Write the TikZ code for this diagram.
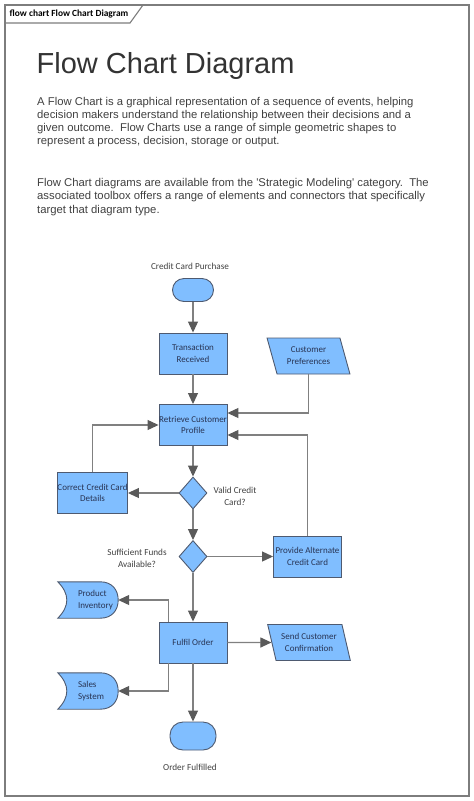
\documentclass[tikz,border=0pt]{standalone}
\usepackage{fontspec}
\setmainfont{Liberation Sans}
\newfontfamily\nodefont{Carlito}
\usetikzlibrary{arrows.meta,shapes.geometric,calc}
\pgfdeclarelayer{background}
\pgfsetlayers{background,main}
\definecolor{shapefill}{RGB}{128,190,255}
\definecolor{shapeline}{RGB}{78,90,112}
\definecolor{conncol}{RGB}{128,128,128}
\definecolor{tipcol}{RGB}{90,90,90}
\definecolor{nodetext}{RGB}{40,52,84}
\definecolor{labeltext}{RGB}{64,64,64}
\definecolor{framecol}{RGB}{125,125,125}
\definecolor{titlecol}{RGB}{51,51,51}
\definecolor{paracol}{RGB}{64,64,64}
\newcommand\storageshape[1]{%
  \begin{pgfonlayer}{background}
  \path[shapebase] ([xshift=-20pt]#1.north west) -- ([xshift=-18pt]#1.north east)
    .. controls ([xshift=-6pt]#1.north east) and ([yshift=10pt]#1.east) .. (#1.east)
    .. controls ([yshift=-10pt]#1.east) and ([xshift=-6pt]#1.south east) .. ([xshift=-18pt]#1.south east)
    -- ([xshift=-20pt]#1.south west)
    .. controls ([xshift=-8pt,yshift=-6pt]#1.west) and ([xshift=-8pt,yshift=6pt]#1.west) .. ([xshift=-20pt]#1.north west)
    -- cycle;
  \end{pgfonlayer}}
\begin{document}
\begin{tikzpicture}[x=1pt,y=-1pt,
  shapebase/.style={draw=shapeline, fill=shapefill, line width=0.9pt},
  nodetxt/.style={font=\nodefont\fontsize{9}{11.8}\selectfont, text=nodetext, align=center},
  process/.style={shapebase, nodetxt, rectangle, minimum width=68pt, minimum height=41pt, inner sep=0pt},
  terminal/.style={shapebase, rectangle, rounded corners=11.5pt, minimum width=41pt, minimum height=23pt, inner sep=0pt},
  decision/.style={shapebase, diamond, minimum width=28pt, minimum height=32pt, inner sep=0pt},
  ioshape/.style={shapebase, nodetxt, trapezium, trapezium left angle=110, trapezium right angle=70,
     trapezium stretches=true, minimum width=83pt, minimum height=36pt, inner sep=1pt},
  storetxt/.style={nodetxt, align=left, text width=40pt, minimum height=36pt, inner sep=0pt},
  lbl/.style={font=\nodefont\fontsize{9.2}{11.8}\selectfont, text=labeltext, align=center, inner sep=0pt},
  conn/.style={draw=conncol, line width=1.1pt, -{Triangle[length=11pt,width=10pt,color=tipcol]}},
  para/.style={font=\fontsize{11.3}{13.2}\selectfont, text=paracol, align=left, inner sep=0pt, anchor=north west}
]
\useasboundingbox (0,0) rectangle (474,801);
% frame
\draw[framecol, line width=1.3pt] (5,5) rectangle (469,796);
\draw[framecol, line width=1.1pt] (5,23) -- (130,23) -- (143,5);
\node[anchor=west, font=\nodefont\bfseries\fontsize{9.4}{11}\selectfont, text=black, inner sep=0pt] (tabtitle) at (9.5,14) {flow chart Flow Chart Diagram};
% title and text
\node[anchor=base west, font=\fontsize{29}{34}\selectfont, text=titlecol, inner sep=0pt] (title) at (36.5,73.5) {Flow Chart Diagram};
\node[para] (para1) at (37,96.7) {A Flow Chart is a graphical representation of a sequence of events, helping\\
decision makers understand the relationship between their decisions and a\\
given outcome.\ \ Flow Charts use a range of simple geometric shapes to\\
represent a process, decision, storage or output.};
\node[para] (para2) at (37,178.3) {Flow Chart diagrams are available from the \textquotesingle Strategic Modeling\textquotesingle\ category.\ \ The\\
associated toolbox offers a range of elements and connectors that specifically\\
target that diagram type.};
% nodes
\node[lbl] (lstart) at (190,266) {Credit Card Purchase};
\node[terminal] (start) at (193,290) {};
\node[process] (trans) at (193,353.5) {Transaction\\Received};
\node[ioshape] (custpref) at (308.5,356) {Customer\\Preferences};
\node[process] (retr) at (193,425) {Retrieve Customer\\Profile};
\node[decision] (valid) at (193,493) {};
\node[lbl] (lvalid) at (235,496) {Valid Credit\\Card?};
\node[process] (correct) at (92.5,493) {Correct Credit Card\\Details};
\node[decision] (funds) at (193,556.5) {};
\node[lbl] (lfunds) at (137,558.5) {Sufficient Funds\\Available?};
\node[process] (alt) at (307.5,556.5) {Provide Alternate\\Credit Card};
\node[process] (fulfil) at (193,642.5) {Fulfil Order};
\node[ioshape] (confirm) at (309,642.5) {Send Customer\\Confirmation};
\node[storetxt] (inv) at (98,600) {Product\\Inventory};
\storageshape{inv}
\node[storetxt] (sales) at (98,691) {Sales\\System};
\storageshape{sales}
\node[terminal, minimum width=46pt, minimum height=28pt, rounded corners=13pt] (finish) at (193,736) {};
\node[lbl] (lfinish) at (190,767) {Order Fulfilled};
% connectors
\draw[conn] (start) -- (trans);
\draw[conn] (trans) -- (retr);
\draw[conn] (custpref.south) |- ([yshift=12pt]retr.east);
\draw[conn] (retr) -- (valid);
\draw[conn] (valid) -- (correct);
\draw[conn] (correct.north) |- (retr.west);
\draw[conn] (valid) -- (funds);
\draw[conn] (funds) -- (alt);
\draw[conn] (alt.north) |- ([yshift=-10pt]retr.east);
\draw[conn] (funds) -- (fulfil);
\draw[conn] (fulfil) -- (confirm);
\draw[conn] ([xshift=10pt]fulfil.north west) |- (inv.east);
\draw[conn] ([xshift=10pt]fulfil.south west) |- (sales.east);
\draw[conn] (fulfil) -- (finish);
\end{tikzpicture}
\end{document}
